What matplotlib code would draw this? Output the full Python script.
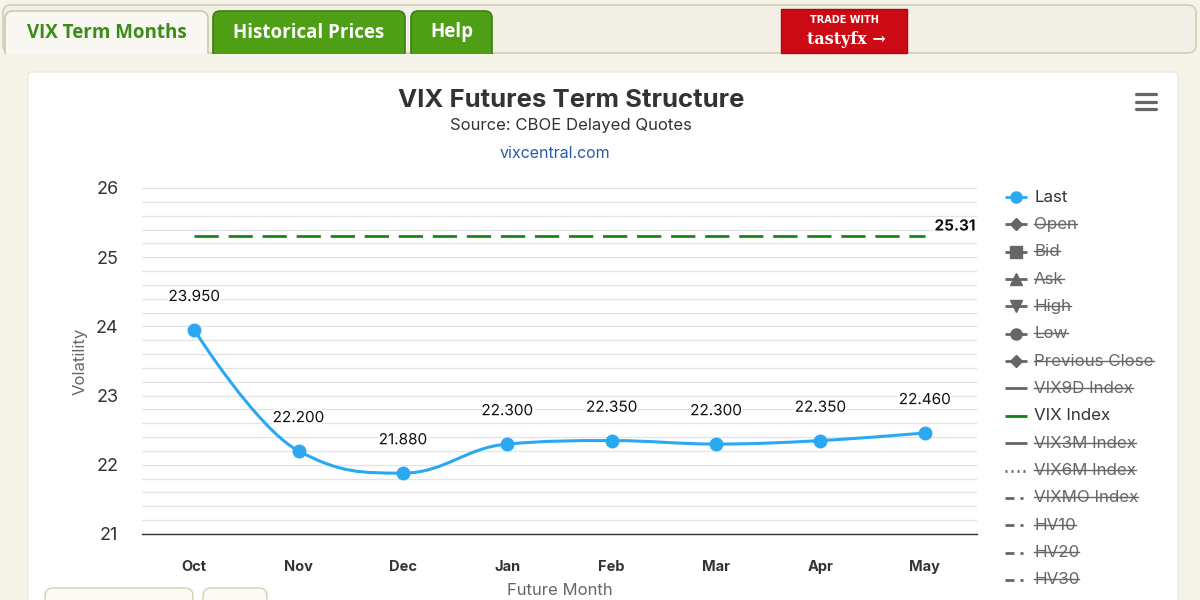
import matplotlib
matplotlib.use('Agg')
import matplotlib.pyplot as plt
from matplotlib.patches import FancyBboxPatch, Rectangle, PathPatch
from matplotlib.path import Path
import matplotlib.patheffects as pe
import numpy as np

# ---------------- data ----------------
months = ['Oct', 'Nov', 'Dec', 'Jan', 'Feb', 'Mar', 'Apr', 'May']
last = [23.950, 22.200, 21.880, 22.300, 22.350, 22.300, 22.350, 22.460]
last_labels = ['23.950', '22.200', '21.880', '22.300', '22.350', '22.300', '22.350', '22.460']
vix_index = 25.31
y_ticks = [21, 22, 23, 24, 25, 26]
legend_names = ['Last', 'Open', 'Bid', 'Ask', 'High', 'Low', 'Previous Close',
                'VIX9D Index', 'VIX Index', 'VIX3M Index', 'VIX6M Index',
                'VIXMO Index', 'HV10', 'HV20', 'HV30']
legend_visible = [True, False, False, False, False, False, False,
                  False, True, False, False, False, False, False, False]
legend_markers = ['o', 'D', 's', '^', 'v', 'o', 'D', None, None, None, None, None, None, None, None]
legend_styles = ['solid', 'solid', 'solid', 'solid', 'solid', 'solid', 'solid', 'solid',
                 'solid', 'solid', 'dot', 'dashdot', 'dashdot', 'dashdot', 'dashdot']
tabs = ['VIX Term Months', 'Historical Prices', 'Help']

BLUE = '#2aa9f2'
GREEN = '#118011'
FONT = 'Inter'

plt.rcParams['font.family'] = [FONT, 'DejaVu Sans']

fig = plt.figure(figsize=(12, 6), dpi=100)
fig.patch.set_facecolor('#f6f3e8')

bg = fig.add_axes([0, 0, 1, 1], zorder=0)
bg.set_xlim(0, 1200)
bg.set_ylim(600, 0)
bg.axis('off')

def rbox(x0, y0, x1, y1, r, fc, ec, lw=1.0, z=1):
    p = FancyBboxPatch((x0, y0), x1 - x0, y1 - y0,
                       boxstyle=f'round,pad=0,rounding_size={r}',
                       fc=fc, ec=ec, lw=lw, zorder=z, mutation_aspect=1)
    bg.add_patch(p)
    return p

# top tab bar
rbox(3, 5, 1196, 53, 8, '#f1efe6', '#d3cdb5', 1.2, 1)
# tabs
rbox(5, 11, 208, 60, 8, '#f8f7f1', '#cfc9b1', 1.2, 2)
rbox(213, 11, 405, 60, 7, '#4e9e16', '#3d7d12', 1.2, 2)
rbox(411, 11, 492, 60, 7, '#4e9e16', '#3d7d12', 1.2, 2)
bg.add_patch(Rectangle((0, 54), 1200, 12, fc='#f6f3e8', ec='none', zorder=3))
tab_x = [107, 309, 452]
tab_col = ['#3a8c17', 'white', 'white']
for tx, tt, tc in zip(tab_x, tabs, tab_col):
    bg.text(tx, 32.5, tt, ha='center', va='center', fontsize=13.5, fontweight='bold',
            color=tc, family='Open Sans', zorder=4)
# ad
bg.add_patch(Rectangle((781, 9), 126, 44, fc='#cc0a14', ec='#a90a10', lw=1, zorder=4))
bg.text(844, 20, 'TRADE WITH', ha='center', va='center', fontsize=7, fontweight='bold',
        color='white', family='Liberation Sans Narrow', zorder=5)
bg.text(846, 39, 'tastyfx \u2192', ha='center', va='center', fontsize=11.5, fontweight='bold',
        color='white', family='DejaVu Serif', zorder=5)

# white panel
rbox(28, 72, 1178, 640, 4, 'white', '#ece9de', 1.0, 1)
# bottom buttons
rbox(45, 588, 193, 620, 8, '#fbfaf5', '#d6cfb4', 1.0, 2)
rbox(203, 588, 267, 620, 8, '#fbfaf5', '#d6cfb4', 1.0, 2)

# hamburger
for yy in [94, 101.5, 109]:
    bg.plot([1136, 1156], [yy, yy], color='#666666', lw=2.3, solid_capstyle='round', zorder=3)

# titles
bg.text(571, 100.5, 'VIX Futures Term Structure', ha='center', va='center', fontsize=18.5,
        fontweight='bold', color='#333333', zorder=3)
bg.text(571, 125.5, 'Source: CBOE Delayed Quotes', ha='center', va='center', fontsize=12,
        color='#333333', zorder=3)
bg.text(555, 154, 'vixcentral.com', ha='center', va='center', fontsize=11.5,
        color='#2a5caa', zorder=3)

# ---------------- main axes ----------------
ax = fig.add_axes([142 / 1200, 66 / 600, 835 / 1200, 346 / 600], zorder=2)
ax.patch.set_alpha(0)
ax.set_xlim(-0.5, 7.5)
ax.set_ylim(21, 26)
ax.set_yticks(y_ticks)
ax.set_yticks(np.arange(21, 26.001, 0.2), minor=True)
ax.set_yticklabels([str(v) for v in y_ticks], fontsize=13, color='#333333')
xs = np.arange(len(months))
ax.set_xticks(xs)
ax.set_xticklabels(months, fontsize=10.5, fontweight='bold', color='#333333')
ax.tick_params(axis='both', which='both', length=0)
ax.tick_params(axis='y', pad=17)
ax.tick_params(axis='x', pad=19)
ax.grid(axis='y', which='both', color='#e3e3e3', lw=0.9)
ax.set_axisbelow(True)
for s in ['top', 'right', 'left']:
    ax.spines[s].set_visible(False)
ax.spines['bottom'].set_color('#333333')
ax.spines['bottom'].set_linewidth(1.0)
ax.set_ylabel('Volatility', fontsize=12, color='#666666', labelpad=6)
ax.set_xlabel('Future Month', fontsize=12, color='#666666', labelpad=6)


def spline_path(px_list, py_list, smoothing=1.5):
    n = len(px_list)
    lc = [None] * n
    rc = [None] * n
    d = smoothing + 1
    for i in range(1, n - 1):
        px, py = px_list[i], py_list[i]
        lx, ly = px_list[i - 1], py_list[i - 1]
        nx, ny = px_list[i + 1], py_list[i + 1]
        lcx = (smoothing * px + lx) / d
        lcy = (smoothing * py + ly) / d
        rcx = (smoothing * px + nx) / d
        rcy = (smoothing * py + ny) / d
        corr = 0
        if rcx != lcx:
            corr = (rcy - lcy) * (rcx - px) / (rcx - lcx) + py - rcy
        lcy += corr
        rcy += corr
        if lcy > ly and lcy > py:
            lcy = max(ly, py); rcy = 2 * py - lcy
        elif lcy < ly and lcy < py:
            lcy = min(ly, py); rcy = 2 * py - lcy
        if rcy > ny and rcy > py:
            rcy = max(ny, py); lcy = 2 * py - rcy
        elif rcy < ny and rcy < py:
            rcy = min(ny, py); lcy = 2 * py - rcy
        lc[i] = (lcx, lcy)
        rc[i] = (rcx, rcy)
    verts = [(px_list[0], py_list[0])]
    codes = [Path.MOVETO]
    for i in range(1, n):
        c1 = rc[i - 1] if rc[i - 1] is not None else (px_list[i - 1], py_list[i - 1])
        c2 = lc[i] if lc[i] is not None else (px_list[i], py_list[i])
        verts += [c1, c2, (px_list[i], py_list[i])]
        codes += [Path.CURVE4] * 3
    return Path(verts, codes)

path = spline_path(list(xs.astype(float)), last)
ax.add_patch(PathPatch(path, fc='none', ec=BLUE, lw=2.2, zorder=3, capstyle='round'))
ax.plot(xs, last, 'o', color=BLUE, ms=9, zorder=4, mec=BLUE)

for x, y, lab in zip(xs, last, last_labels):
    ax.annotate(lab, (x, y), xytext=(0, 24), textcoords='offset points', ha='center',
                va='center', fontsize=11, color='#111111', zorder=5,
                path_effects=[pe.withStroke(linewidth=3, foreground='white')])

# VIX index dashed line
ax.plot([xs[0], xs[-1]], [vix_index, vix_index], color=GREEN, lw=1.9,
        linestyle=(0, (9.2, 3.7)), zorder=3)
ax.annotate(f'{vix_index:.2f}', (xs[-1], vix_index), xytext=(7, 7), textcoords='offset points',
            ha='left', va='center', fontsize=11, fontweight='bold', color='#111111', zorder=5,
            path_effects=[pe.withStroke(linewidth=3, foreground='white')])

# ---------------- legend ----------------
leg_y0 = 197
leg_dy = 27.35
texts = []
for i, (name, vis, mk, ls) in enumerate(zip(legend_names, legend_visible, legend_markers, legend_styles)):
    y = leg_y0 + i * leg_dy
    if name == 'Last':
        col = BLUE
    elif name == 'VIX Index':
        col = GREEN
    else:
        col = '#666666'
    if ls == 'solid':
        bg.plot([1005, 1027], [y, y], color=col, lw=2.0, zorder=3, solid_capstyle='butt')
    elif ls == 'dot':
        for dx in [1006, 1012, 1018, 1024]:
            bg.plot([dx - 1, dx + 1], [y, y], color=col, lw=2.0, zorder=3, solid_capstyle='butt')
    else:  # dash-dot
        bg.plot([1005, 1014], [y, y], color=col, lw=2.0, zorder=3, solid_capstyle='butt')
        bg.plot([1020, 1022.5], [y, y], color=col, lw=2.0, zorder=3, solid_capstyle='butt')
    if mk is not None:
        ms = {'o': 8, 'D': 6, 's': 8, '^': 8, 'v': 8}[mk]
        bg.plot([1016], [y], marker=mk, color=col, ms=ms, mec=col, zorder=4)
    tcol = '#333333' if vis else '#666666'
    t = bg.text(1034, y, name, ha='left', va='center', fontsize=12.2, color=tcol, zorder=3)
    texts.append((t, vis, y))

fig.canvas.draw()
renderer = fig.canvas.get_renderer()
for t, vis, y in texts:
    if not vis:
        bb = t.get_window_extent(renderer)
        bg.plot([bb.x0, bb.x1], [y - 0.5, y - 0.5], color='#666666', lw=1.0, zorder=4)

fig.savefig('out.png', dpi=100, facecolor=fig.get_facecolor())
